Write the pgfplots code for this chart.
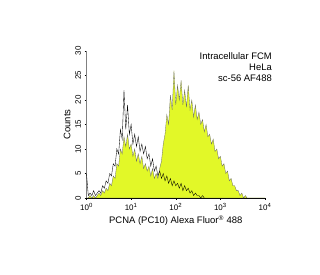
\documentclass[border=0pt]{standalone}
\usepackage{pgfplots}
\pgfplotsset{compat=1.18}
\usepackage{pgfplotstable}
\usepackage{fontspec}
\setmainfont{Liberation Sans}
\definecolor{fillyel}{RGB}{226,248,40}
\pgfplotstableread{
L c
0.00 0
0.04 0
0.08 0.5
0.12 0
0.16 0.5
0.20 0
0.24 0.5
0.28 1
0.32 0.5
0.36 1.5
0.40 1
0.44 2
0.48 1.5
0.52 3
0.56 2.5
0.60 4.5
0.64 4
0.68 7
0.72 6.5
0.76 10
0.80 9
0.84 12.5
0.88 10.5
0.92 13
0.96 10
1.00 11
1.04 8.5
1.08 10
1.12 7.5
1.16 9
1.20 7
1.24 8.5
1.28 6
1.32 7
1.36 5.5
1.40 6.5
1.44 4.5
1.48 6
1.52 4
1.56 5
1.60 4
1.64 6
1.68 7.5
1.72 11
1.76 13
1.80 17
1.84 15
1.88 21
1.92 18
1.96 26
2.00 19
2.04 23
2.08 20
2.12 24
2.16 19
2.20 22
2.24 18.5
2.28 23
2.32 18
2.36 20
2.40 16.5
2.44 19
2.48 16
2.52 17.5
2.56 15
2.60 16
2.64 13.5
2.68 15
2.72 12.5
2.76 13
2.80 11
2.84 12
2.88 9.5
2.92 10
2.96 8
3.00 8.5
3.04 6.5
3.08 7
3.12 5
3.16 5.5
3.20 3.5
3.24 4
3.28 2.5
3.32 2.5
3.36 1.5
3.40 1.5
3.44 0.5
3.48 1
3.52 0
3.56 0.5
3.60 0
4.00 0
}\yel
\pgfplotstableread{
L c
0.00 5
0.04 0.5
0.08 1
0.12 0.5
0.16 1.5
0.20 0.5
0.24 1
0.28 1.5
0.32 1
0.36 2.5
0.40 2
0.44 3.5
0.48 3
0.52 5
0.56 4.5
0.60 7
0.64 6.5
0.68 10
0.72 9
0.76 14
0.80 12
0.84 22
0.88 14
0.92 19
0.96 13
1.00 15
1.04 11
1.08 13
1.12 10.5
1.16 12.5
1.20 9.5
1.24 11
1.28 9
1.32 10.5
1.36 8
1.40 9
1.44 6.5
1.48 8
1.52 5.5
1.56 6.5
1.60 4.5
1.64 5.5
1.68 4
1.72 5
1.76 3.5
1.80 4.5
1.84 3
1.88 4
1.92 2.5
1.96 3.5
2.00 2.5
2.04 3
2.08 2
2.12 3
2.16 1.5
2.20 2.5
2.24 1.5
2.28 2
2.32 1
2.36 1.5
2.40 0.5
2.44 1
2.48 0.5
2.52 0.5
2.56 0
2.60 0.5
2.64 0
}\blk
\begin{document}
\begin{tikzpicture}[x=1bp,y=1bp]
\path[use as bounding box] (0,0) rectangle (320,275);
\begin{axis}[
  at={(86.5bp,77bp)}, anchor=south west,
  scale only axis, width=178.5bp, height=147bp,
  xmin=0, xmax=4, ymin=0, ymax=30,
  axis x line=bottom, axis y line=left,
  axis line style={-, line width=0.5pt},
  y axis line style={gray},
  xtick={0,1,2,3,4},
  xticklabels={10\textsuperscript{0},10\textsuperscript{1},10\textsuperscript{2},10\textsuperscript{3},10\textsuperscript{4}},
  ytick={0,5,...,30},
  tick align=outside, major tick length=2pt,
  tick style={black, line width=0.4pt},
  /pgf/number format/assume math mode=true,
  tick label style={font=\fontsize{8}{9}\selectfont},
  yticklabel style={rotate=90, anchor=south},
  xlabel={PCNA (PC10) Alexa Fluor\textsuperscript{\textregistered} 488},
  ylabel={Counts},
  label style={font=\fontsize{9.5}{11}\selectfont},
  xlabel style={yshift=2pt},
  ylabel style={yshift=-2pt},
  clip=false,
]
\addplot[fill=fillyel, draw=black!60, line width=0.3pt] table[x=L,y=c]{\yel} \closedcycle;
\addplot[black, line width=0.35pt] table[x=L,y=c]{\blk};
\end{axis}
\node[anchor=north east, align=right, inner sep=0pt, font=\fontsize{9.5}{11.5}\selectfont] at (272,223) {Intracellular FCM\\HeLa\\sc-56 AF488};
\end{tikzpicture}
\end{document}
